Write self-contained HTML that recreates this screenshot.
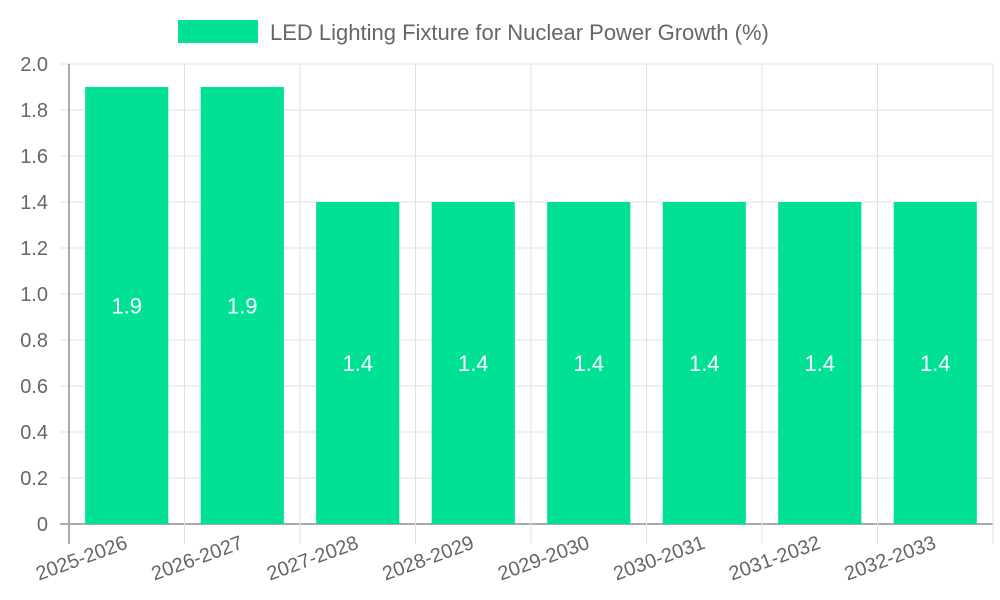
<!DOCTYPE html>
<html><head><meta charset="utf-8"><style>
body{margin:0;background:#fff;}
svg{display:block;font-family:"Liberation Sans",sans-serif;}
</style></head><body>
<svg id="chart" width="1000" height="600" xmlns="http://www.w3.org/2000/svg">
<rect x="178" y="20" width="80" height="23" fill="#00e096"/>
<text x="270" y="40" font-size="22" fill="#666">LED Lighting Fixture for Nuclear Power Growth (%)</text>
<g id="grid"></g><g id="bars"></g><g id="labels"></g>
</svg>
<script>
const categories=["2025-2026","2026-2027","2027-2028","2028-2029","2029-2030","2030-2031","2031-2032","2032-2033"];
const values=[1.9,1.9,1.4,1.4,1.4,1.4,1.4,1.4];
const yTicks=[0,0.2,0.4,0.6,0.8,1.0,1.2,1.4,1.6,1.8,2.0];
const yTickLabels=["0","0.2","0.4","0.6","0.8","1.0","1.2","1.4","1.6","1.8","2.0"];
const NS="http://www.w3.org/2000/svg";
const L=69,R=993,T=64,B=524,yMax=2.0;
const bw=(R-L)/categories.length;
const y=v=>B-(v/yMax)*(B-T);
const x=i=>L+i*bw;
function mk(tag,attrs,parent){const e=document.createElementNS(NS,tag);for(const k in attrs)e.setAttribute(k,attrs[k]);parent.appendChild(e);return e;}
const grid=document.getElementById('grid'),bars=document.getElementById('bars'),labels=document.getElementById('labels');
yTicks.forEach((t,i)=>{
  const l=mk('line',{x1:60,x2:R,y1:y(t),y2:y(t),stroke:t===0?'#aaa':'#e0e0e0','stroke-width':t===0?2:1},grid);
  
  
  const tx=mk('text',{x:48,y:y(t)+7,'text-anchor':'end','font-size':20,fill:'#666'},labels);
  tx.textContent=yTickLabels[i];
  
  
});
for(let i=0;i<=categories.length;i++){
  const l=mk('line',{x1:x(i),x2:x(i),y1:T,y2:B+20,stroke:i===0?'#aaa':'#e0e0e0','stroke-width':i===0?2:1},grid);
  
  
}
categories.forEach((c,i)=>{
  const cx=x(i)+bw/2,w=bw*0.72;
  const r=mk('rect',{x:cx-w/2,y:y(values[i]),width:w,height:B-y(values[i]),fill:'#00e096'},bars);
  
  
  const v=mk('text',{x:cx,y:(y(values[i])+B)/2+8,'text-anchor':'middle','font-size':22,fill:'#fff'},labels);
  v.textContent=values[i];
  
  
  const t=mk('text',{x:cx+2,y:548,'text-anchor':'end','font-size':20,fill:'#666',transform:`rotate(-20 ${cx+2} 548)`},labels);
  t.textContent=c;
  
  
});
</script>
</body></html>
